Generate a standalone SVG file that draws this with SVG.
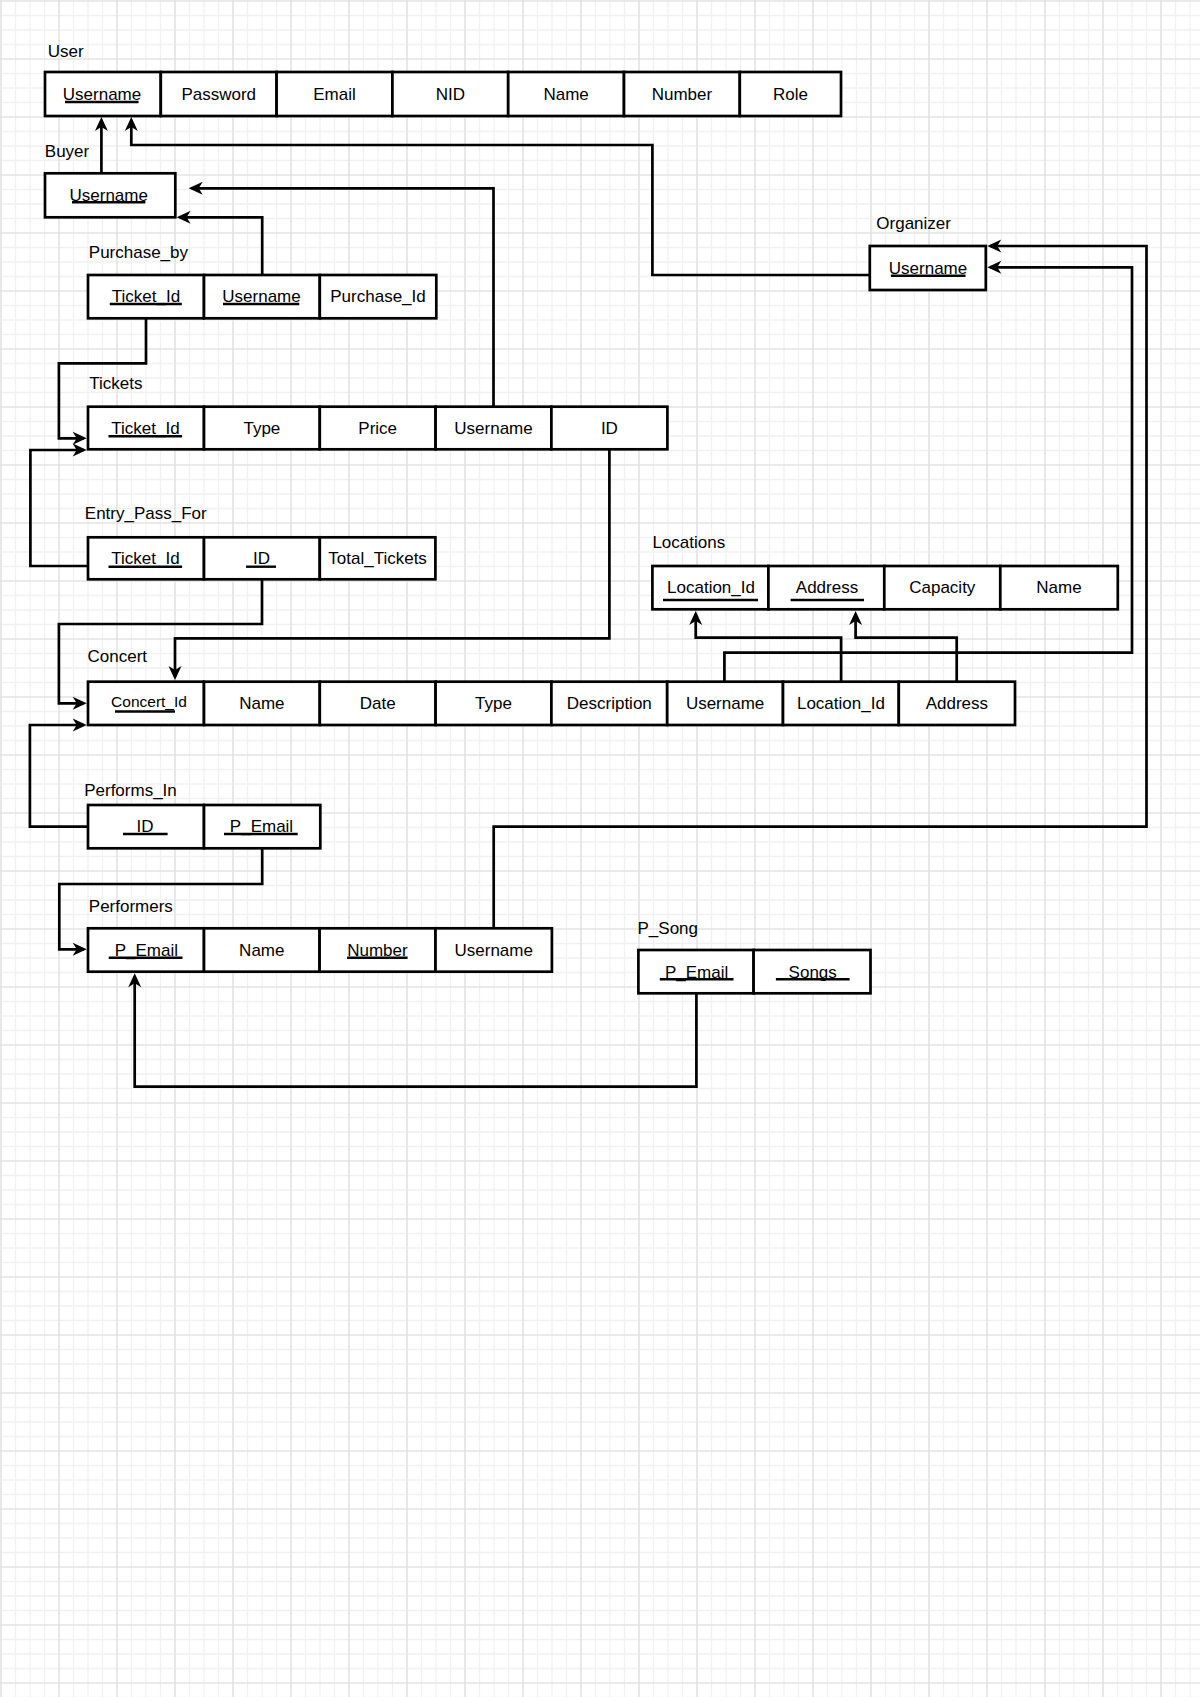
<svg xmlns="http://www.w3.org/2000/svg" width="1200" height="1697" viewBox="0 0 1200 1697">
<style>
.cell{fill:#fff;stroke:#000;stroke-width:2.7}
.t{font-family:"Liberation Sans",Arial,sans-serif;font-size:17px;fill:#000}
.c{text-anchor:middle}
.u{stroke:#000;stroke-width:2.4}
.conn{fill:none;stroke:#000;stroke-width:2.7;marker-end:url(#arr)}
</style>
<defs>
<pattern id="grid" patternUnits="userSpaceOnUse" x="0" y="0" width="58" height="58">
<path d="M15.5 0V58M30 0V58M44.5 0V58M0 15.5H58M0 30H58M0 44.5H58" stroke="#f1f1f1" stroke-width="1.3" fill="none"/>
<path d="M1 0V58M0 1H58" stroke="#e3e3e3" stroke-width="1.6" fill="none"/>
</pattern>
<marker id="arr" markerUnits="userSpaceOnUse" markerWidth="20" markerHeight="16" refX="-3" refY="0" orient="auto" overflow="visible">
<path d="M0,0 L-14,-6.5 L-10,0 L-14,6.5 Z" fill="#000"/>
</marker>
</defs>
<rect width="1200" height="1697" fill="#fff"/>
<rect width="1200" height="1697" fill="url(#grid)"/>

<g id="user">
<text class="t" x="47.8" y="56.7">User</text>
<rect class="cell" x="45" y="72" width="115.8" height="44"/>
<rect class="cell" x="160.8" y="72" width="115.8" height="44"/>
<rect class="cell" x="276.6" y="72" width="115.8" height="44"/>
<rect class="cell" x="392.4" y="72" width="115.8" height="44"/>
<rect class="cell" x="508.2" y="72" width="115.8" height="44"/>
<rect class="cell" x="624" y="72" width="115.8" height="44"/>
<rect class="cell" x="739.8" y="72" width="101.2" height="44"/>
<text class="t c" x="102" y="100">Username</text>
<line class="u" x1="65" y1="102" x2="138.5" y2="102"/>
<text class="t c" x="218.7" y="100">Password</text>
<text class="t c" x="334.5" y="100">Email</text>
<text class="t c" x="450.3" y="100">NID</text>
<text class="t c" x="566.1" y="100">Name</text>
<text class="t c" x="681.9" y="100">Number</text>
<text class="t c" x="790.4" y="100">Role</text>
</g>

<g id="buyer">
<text class="t" x="44.8" y="156.5">Buyer</text>
<rect class="cell" x="45" y="173.3" width="130.3" height="44"/>
<text class="t c" x="108.7" y="200.5">Username</text>
<line class="u" x1="72" y1="202.3" x2="145.4" y2="202.3"/>
</g>

<g id="organizer">
<text class="t" x="876.3" y="229.3">Organizer</text>
<rect class="cell" x="869.8" y="246" width="116" height="44"/>
<text class="t c" x="928" y="273.8">Username</text>
<line class="u" x1="890.9" y1="275.8" x2="965.5" y2="275.8"/>
</g>

<g id="purchase_by">
<text class="t" x="88.8" y="258.3">Purchase_by</text>
<rect class="cell" x="88" y="275" width="116" height="43.3"/>
<rect class="cell" x="204" y="275" width="115.8" height="43.3"/>
<rect class="cell" x="319.8" y="275" width="116.5" height="43.3"/>
<text class="t c" x="146" y="301.7">Ticket_Id</text>
<line class="u" x1="109.8" y1="304" x2="181.8" y2="304"/>
<text class="t c" x="261.5" y="301.7">Username</text>
<line class="u" x1="223" y1="304" x2="299.3" y2="304"/>
<text class="t c" x="378" y="301.7">Purchase_Id</text>
</g>

<g id="tickets">
<text class="t" x="89.3" y="389">Tickets</text>
<rect class="cell" x="88" y="406.7" width="116" height="42.6"/>
<rect class="cell" x="204" y="406.7" width="115.8" height="42.6"/>
<rect class="cell" x="319.8" y="406.7" width="115.8" height="42.6"/>
<rect class="cell" x="435.6" y="406.7" width="115.8" height="42.6"/>
<rect class="cell" x="551.4" y="406.7" width="116" height="42.6"/>
<text class="t c" x="145.5" y="434">Ticket_Id</text>
<line class="u" x1="108.5" y1="436.3" x2="182.1" y2="436.3"/>
<text class="t c" x="261.9" y="434">Type</text>
<text class="t c" x="377.7" y="434">Price</text>
<text class="t c" x="493.5" y="434">Username</text>
<text class="t c" x="609.4" y="434">ID</text>
</g>

<g id="entry_pass_for">
<text class="t" x="84.8" y="519.3">Entry_Pass_For</text>
<rect class="cell" x="88" y="537.3" width="116" height="42"/>
<rect class="cell" x="204" y="537.3" width="115.8" height="42"/>
<rect class="cell" x="319.8" y="537.3" width="115.6" height="42"/>
<text class="t c" x="145.5" y="564.3">Ticket_Id</text>
<line class="u" x1="108.5" y1="566.7" x2="182.1" y2="566.7"/>
<text class="t c" x="261.5" y="564.3">ID</text>
<line class="u" x1="246" y1="566.7" x2="276" y2="566.7"/>
<text class="t c" x="377.6" y="564.3">Total_Tickets</text>
</g>

<g id="locations">
<text class="t" x="652.4" y="548">Locations</text>
<rect class="cell" x="652.4" y="566" width="116" height="43.3"/>
<rect class="cell" x="768.4" y="566" width="115.9" height="43.3"/>
<rect class="cell" x="884.3" y="566" width="116" height="43.3"/>
<rect class="cell" x="1000.3" y="566" width="117.5" height="43.3"/>
<text class="t c" x="711" y="592.7">Location_Id</text>
<line class="u" x1="663" y1="600" x2="758" y2="600"/>
<text class="t c" x="827" y="592.7">Address</text>
<line class="u" x1="790.6" y1="600" x2="864" y2="600"/>
<text class="t c" x="942.3" y="592.7">Capacity</text>
<text class="t c" x="1059" y="592.7">Name</text>
</g>

<g id="concert">
<text class="t" x="87.5" y="661.5">Concert</text>
<rect class="cell" x="88" y="681.7" width="116" height="43.3"/>
<rect class="cell" x="204" y="681.7" width="115.8" height="43.3"/>
<rect class="cell" x="319.8" y="681.7" width="115.8" height="43.3"/>
<rect class="cell" x="435.6" y="681.7" width="115.8" height="43.3"/>
<rect class="cell" x="551.4" y="681.7" width="115.8" height="43.3"/>
<rect class="cell" x="667.2" y="681.7" width="115.8" height="43.3"/>
<rect class="cell" x="783" y="681.7" width="115.8" height="43.3"/>
<rect class="cell" x="898.8" y="681.7" width="116.2" height="43.3"/>
<text class="t c" x="149" y="706.5" style="font-size:15.5px">Concert_Id</text>
<line class="u" x1="115" y1="711.5" x2="175" y2="711.5"/>
<text class="t c" x="261.9" y="709.3">Name</text>
<text class="t c" x="377.7" y="709.3">Date</text>
<text class="t c" x="493.5" y="709.3">Type</text>
<text class="t c" x="609.3" y="709.3">Description</text>
<text class="t c" x="725.1" y="709.3">Username</text>
<text class="t c" x="840.9" y="709.3">Location_Id</text>
<text class="t c" x="956.9" y="709.3">Address</text>
</g>

<g id="performs_in">
<text class="t" x="84.2" y="795.5">Performs_In</text>
<rect class="cell" x="88" y="805" width="116" height="43.3"/>
<rect class="cell" x="204" y="805" width="116.3" height="43.3"/>
<text class="t c" x="145" y="831.7">ID</text>
<line class="u" x1="123" y1="834" x2="167.6" y2="834"/>
<text class="t c" x="261.5" y="831.7">P_Email</text>
<line class="u" x1="224" y1="834" x2="297.7" y2="834"/>
</g>

<g id="performers">
<text class="t" x="88.8" y="912.3">Performers</text>
<rect class="cell" x="88" y="928.3" width="116" height="43.4"/>
<rect class="cell" x="204" y="928.3" width="115.6" height="43.4"/>
<rect class="cell" x="319.6" y="928.3" width="115.9" height="43.4"/>
<rect class="cell" x="435.5" y="928.3" width="116.4" height="43.4"/>
<text class="t c" x="146.4" y="955.8">P_Email</text>
<line class="u" x1="108.7" y1="957.8" x2="182.5" y2="957.8"/>
<text class="t c" x="261.8" y="955.8">Name</text>
<text class="t c" x="377.4" y="955.8">Number</text>
<line class="u" x1="347.1" y1="957.8" x2="407.6" y2="957.8"/>
<text class="t c" x="493.7" y="955.8">Username</text>
</g>

<g id="p_song">
<text class="t" x="637.5" y="933.5">P_Song</text>
<rect class="cell" x="638.4" y="950" width="115.2" height="43.3"/>
<rect class="cell" x="753.6" y="950" width="116.9" height="43.3"/>
<text class="t c" x="696.6" y="977.5">P_Email</text>
<line class="u" x1="659.8" y1="979.3" x2="733.5" y2="979.3"/>
<text class="t c" x="812.7" y="977.5">Songs</text>
<line class="u" x1="775.9" y1="979.3" x2="849.6" y2="979.3"/>
</g>

<g id="connectors">
<path class="conn" d="M101.4 173.3V120"/>
<path class="conn" d="M869.8 275H652.4V145H131.3V120"/>
<path class="conn" d="M262.2 275V217.3H179.6"/>
<path class="conn" d="M493.5 406.7V188.3H191.7"/>
<path class="conn" d="M146 318.3V363.3H58.9V438.3H83.7"/>
<path class="conn" d="M88 566H30.4V450H83.7"/>
<path class="conn" d="M262 579.3V624H58.9V703.3H83.7"/>
<path class="conn" d="M609.4 449.3V638.3H175V677"/>
<path class="conn" d="M88 826.7H29.9V725H83.7"/>
<path class="conn" d="M262.2 848.3V884H59.3V949.3H83.7"/>
<path class="conn" d="M696.4 993.3V1086.7H134.7V976.3"/>
<path class="conn" d="M841.1 681.7V637.7H695.7V614"/>
<path class="conn" d="M956.7 681.7V637.7H855.6V614"/>
<path class="conn" d="M724.4 681.7V652.7H1132V267.3H990.3"/>
<path class="conn" d="M493.7 928.3V826.7H1146.5V246H990.3"/>
</g>
</svg>
